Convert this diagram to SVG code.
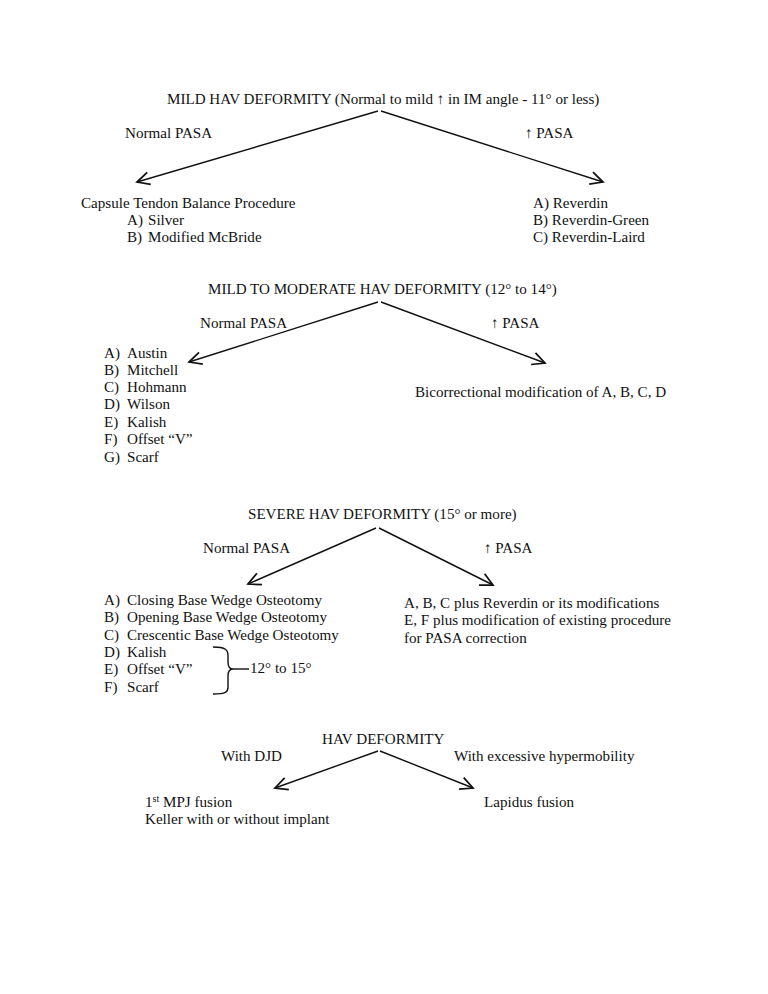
<svg xmlns="http://www.w3.org/2000/svg" width="768" height="994" viewBox="0 0 768 994">
<style>
text{font-family:"Liberation Serif","Times New Roman",serif;font-size:15.1px;fill:#111}
.c{stroke:#111;stroke-width:1.4;fill:none}
</style>
<defs>
<marker id="ah" markerUnits="userSpaceOnUse" markerWidth="20" markerHeight="20" viewBox="-12 -8 14 16" refX="0" refY="0" orient="auto">
<path d="M-10,-5 L0,0 L-10,5" fill="none" stroke="#111" stroke-width="1.4"/>
</marker>
</defs>
<rect width="768" height="994" fill="#fff"/>

<g id="connectors">
<line class="c" x1="378" y1="111" x2="137" y2="182" marker-end="url(#ah)"/>
<line class="c" x1="381" y1="111" x2="603" y2="182" marker-end="url(#ah)"/>
<line class="c" x1="378" y1="302" x2="189" y2="362" marker-end="url(#ah)"/>
<line class="c" x1="381" y1="302" x2="545" y2="363" marker-end="url(#ah)"/>
<line class="c" x1="376" y1="528" x2="248" y2="584" marker-end="url(#ah)"/>
<line class="c" x1="379" y1="528" x2="493" y2="585" marker-end="url(#ah)"/>
<line class="c" x1="378" y1="751" x2="275" y2="788" marker-end="url(#ah)"/>
<line class="c" x1="380" y1="751" x2="473" y2="788" marker-end="url(#ah)"/>
<path class="c" d="M213,647 C226,647 228,650 228,656 L228,662 C228,667 230,669 233,669 C230,669 228,671 228,676 L228,687 C228,692 226,694 213,694"/>
<line class="c" x1="233" y1="669" x2="249" y2="669"/>
</g>

<g id="s1-root"><text x="167" y="104">MILD HAV DEFORMITY (Normal to mild ↑ in IM angle - 11° or less)</text></g>
<g id="s1-label-left"><text x="125" y="138">Normal PASA</text></g>
<g id="s1-label-right"><text x="525" y="138">↑ PASA</text></g>
<g id="s1-left">
<text x="81" y="208">Capsule Tendon Balance Procedure</text>
<text x="127" y="225">A)</text><text x="148" y="225">Silver</text>
<text x="127" y="242">B)</text><text x="148" y="242">Modified McBride</text>
</g>
<g id="s1-right">
<text x="533" y="208">A) Reverdin</text>
<text x="533" y="225">B) Reverdin-Green</text>
<text x="533" y="242">C) Reverdin-Laird</text>
</g>

<g id="s2-root"><text x="208" y="294">MILD TO MODERATE HAV DEFORMITY (12° to 14°)</text></g>
<g id="s2-label-left"><text x="200" y="328">Normal PASA</text></g>
<g id="s2-label-right"><text x="491" y="328">↑ PASA</text></g>
<g id="s2-left">
<text x="104" y="358">A)</text><text x="127" y="358">Austin</text>
<text x="104" y="375">B)</text><text x="127" y="375">Mitchell</text>
<text x="104" y="392">C)</text><text x="127" y="392">Hohmann</text>
<text x="104" y="409">D)</text><text x="127" y="409">Wilson</text>
<text x="104" y="427">E)</text><text x="127" y="427">Kalish</text>
<text x="104" y="444">F)</text><text x="127" y="444">Offset “V”</text>
<text x="104" y="462">G)</text><text x="127" y="462">Scarf</text>
</g>
<g id="s2-right"><text x="415" y="397">Bicorrectional modification of A, B, C, D</text></g>

<g id="s3-root"><text x="248" y="519">SEVERE HAV DEFORMITY (15° or more)</text></g>
<g id="s3-label-left"><text x="203" y="553">Normal PASA</text></g>
<g id="s3-label-right"><text x="484" y="553">↑ PASA</text></g>
<g id="s3-left">
<text x="104" y="605">A)</text><text x="127" y="605">Closing Base Wedge Osteotomy</text>
<text x="104" y="622">B)</text><text x="127" y="622">Opening Base Wedge Osteotomy</text>
<text x="104" y="640">C)</text><text x="127" y="640">Crescentic Base Wedge Osteotomy</text>
<text x="104" y="657">D)</text><text x="127" y="657">Kalish</text>
<text x="104" y="674">E)</text><text x="127" y="674">Offset “V”</text>
<text x="104" y="692">F)</text><text x="127" y="692">Scarf</text>
</g>
<g id="s3-bracket-label"><text x="250" y="673">12° to 15°</text></g>
<g id="s3-right">
<text x="404" y="608">A, B, C plus Reverdin or its modifications</text>
<text x="404" y="625">E, F plus modification of existing procedure</text>
<text x="404" y="643">for PASA correction</text>
</g>

<g id="s4-root"><text x="322" y="744">HAV DEFORMITY</text></g>
<g id="s4-label-left"><text x="221" y="761">With DJD</text></g>
<g id="s4-label-right"><text x="454" y="761">With excessive hypermobility</text></g>
<g id="s4-left">
<text x="145" y="807">1<tspan font-size="10" dy="-5">st</tspan><tspan dy="5"> MPJ fusion</tspan></text>
<text x="145" y="824">Keller with or without implant</text>
</g>
<g id="s4-right"><text x="484" y="807">Lapidus fusion</text></g>
</svg>
